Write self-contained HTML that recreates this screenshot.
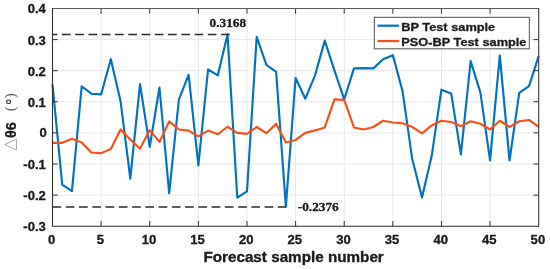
<!DOCTYPE html><html><head><meta charset="utf-8"><title>Forecast</title>
<style>html,body{margin:0;padding:0;background:#fff}svg{display:block}text{font-family:"Liberation Sans",sans-serif;font-weight:bold;fill:#1a1a1a}.s{stroke:#1a1a1a;stroke-width:.3px}.t{font-family:"Liberation Serif",serif;stroke:#1a1a1a;stroke-width:.3px}</style></head><body>
<svg width="550" height="269" viewBox="0 0 550 269">
<rect width="550" height="269" fill="#fff"/>
<path d="M101.12 8.50V226.20M149.74 8.50V226.20M198.36 8.50V226.20M246.98 8.50V226.20M295.60 8.50V226.20M344.22 8.50V226.20M392.84 8.50V226.20M441.46 8.50V226.20M490.08 8.50V226.20M52.50 195.10H538.70M52.50 164.00H538.70M52.50 132.90H538.70M52.50 101.80H538.70M52.50 70.70H538.70M52.50 39.60H538.70" stroke="#e8e8e8" stroke-width="1" fill="none"/>
<polyline points="52.50,84.38 62.22,184.53 71.95,191.06 81.67,86.25 91.40,93.71 101.12,94.34 110.84,59.19 120.57,101.18 130.29,178.62 140.02,84.07 149.74,146.90 159.46,87.49 169.19,193.23 178.91,99.31 188.64,74.90 198.36,165.43 208.08,69.46 217.81,75.37 227.53,34.38 237.26,197.56 246.98,191.37 256.70,36.80 266.43,64.98 276.15,71.94 285.88,206.79 295.60,77.85 305.32,98.69 315.05,75.37 324.77,40.63 334.50,70.70 344.22,99.41 353.94,68.37 363.67,68.06 373.39,68.37 383.12,59.19 392.84,55.15 402.56,91.10 412.29,159.34 422.01,197.59 431.74,155.60 441.46,89.67 451.18,93.40 460.91,154.36 470.63,61.18 480.36,92.31 490.08,160.39 499.80,55.46 509.53,160.39 519.25,92.78 528.98,86.09 538.70,56.18" fill="none" stroke="#0072C2" stroke-width="2.15" stroke-linejoin="round"/>
<polyline points="52.50,142.85 62.22,142.85 71.95,138.81 81.67,142.54 91.40,152.49 101.12,153.12 110.84,149.07 120.57,129.48 130.29,139.43 140.02,148.76 149.74,130.10 159.46,141.92 169.19,121.39 178.91,129.48 188.64,130.57 198.36,136.32 208.08,130.57 217.81,134.27 227.53,126.77 237.26,132.90 246.98,133.83 256.70,126.99 266.43,133.21 276.15,123.76 285.88,142.54 295.60,139.99 305.32,132.90 315.05,130.41 324.77,127.46 334.50,99.31 344.22,99.93 353.94,127.46 363.67,129.48 373.39,126.99 383.12,120.77 392.84,122.45 402.56,123.26 412.29,126.99 422.01,133.34 431.74,125.44 441.46,120.77 451.18,122.02 460.91,126.24 470.63,121.24 480.36,123.76 490.08,129.48 499.80,120.77 509.53,126.99 519.25,121.24 528.98,119.99 538.70,126.99" fill="none" stroke="#F5501A" stroke-width="2.15" stroke-linejoin="round"/>
<path d="M52.50 34.5H230.3" stroke="#2b2b2b" stroke-width="1.5" stroke-dasharray="8.7 4.56" stroke-dashoffset="3.8" fill="none"/>
<path d="M52.50 207H286" stroke="#2b2b2b" stroke-width="1.5" stroke-dasharray="8.7 4.56" fill="none"/>
<path d="M101.12 226.20v-5.20M101.12 8.50v5.20M149.74 226.20v-5.20M149.74 8.50v5.20M198.36 226.20v-5.20M198.36 8.50v5.20M246.98 226.20v-5.20M246.98 8.50v5.20M295.60 226.20v-5.20M295.60 8.50v5.20M344.22 226.20v-5.20M344.22 8.50v5.20M392.84 226.20v-5.20M392.84 8.50v5.20M441.46 226.20v-5.20M441.46 8.50v5.20M490.08 226.20v-5.20M490.08 8.50v5.20M52.50 195.10h5.20M538.70 195.10h-5.20M52.50 164.00h5.20M538.70 164.00h-5.20M52.50 132.90h5.20M538.70 132.90h-5.20M52.50 101.80h5.20M538.70 101.80h-5.20M52.50 70.70h5.20M538.70 70.70h-5.20M52.50 39.60h5.20M538.70 39.60h-5.20" stroke="#333" stroke-width="1" fill="none"/>
<path d="M52.00 8.50H539.20" stroke="#5a5a5a" stroke-width="1" fill="none"/>
<path d="M538.70 8.50V226.20" stroke="#3a3a3a" stroke-width="1.1" fill="none"/>
<path d="M52.50 8.00V226.20H539.20" stroke="#2e2e2e" stroke-width="1.1" fill="none"/>
<text transform="translate(51.70 243.90) scale(1.090 1)" font-size="12" text-anchor="middle" class="s">0</text>
<text transform="translate(100.32 243.90) scale(1.090 1)" font-size="12" text-anchor="middle" class="s">5</text>
<text transform="translate(148.94 243.90) scale(1.090 1)" font-size="12" text-anchor="middle" class="s">10</text>
<text transform="translate(197.56 243.90) scale(1.090 1)" font-size="12" text-anchor="middle" class="s">15</text>
<text transform="translate(246.18 243.90) scale(1.090 1)" font-size="12" text-anchor="middle" class="s">20</text>
<text transform="translate(294.80 243.90) scale(1.090 1)" font-size="12" text-anchor="middle" class="s">25</text>
<text transform="translate(343.42 243.90) scale(1.090 1)" font-size="12" text-anchor="middle" class="s">30</text>
<text transform="translate(392.04 243.90) scale(1.090 1)" font-size="12" text-anchor="middle" class="s">35</text>
<text transform="translate(440.66 243.90) scale(1.090 1)" font-size="12" text-anchor="middle" class="s">40</text>
<text transform="translate(489.28 243.90) scale(1.090 1)" font-size="12" text-anchor="middle" class="s">45</text>
<text transform="translate(537.90 243.90) scale(1.090 1)" font-size="12" text-anchor="middle" class="s">50</text>
<text transform="translate(45.90 231.10) scale(1.090 1)" font-size="12" text-anchor="end" class="s">-0.3</text>
<text transform="translate(45.90 200.00) scale(1.090 1)" font-size="12" text-anchor="end" class="s">-0.2</text>
<text transform="translate(45.90 168.90) scale(1.090 1)" font-size="12" text-anchor="end" class="s">-0.1</text>
<text transform="translate(46.70 137.40) scale(1.090 1)" font-size="12" text-anchor="end" class="s">0</text>
<text transform="translate(45.90 106.70) scale(1.090 1)" font-size="12" text-anchor="end" class="s">0.1</text>
<text transform="translate(45.90 75.60) scale(1.090 1)" font-size="12" text-anchor="end" class="s">0.2</text>
<text transform="translate(45.90 44.50) scale(1.090 1)" font-size="12" text-anchor="end" class="s">0.3</text>
<text transform="translate(45.90 13.40) scale(1.090 1)" font-size="12" text-anchor="end" class="s">0.4</text>
<text transform="translate(293.60 261.70) scale(1.090 1)" font-size="14" text-anchor="middle" class="s">Forecast sample number</text>
<text transform="translate(209.60 26.80) scale(1.090 1)" font-size="12.2" text-anchor="start" class="t">0.3168</text>
<text transform="translate(297.80 210.60) scale(1.090 1)" font-size="12.2" text-anchor="start" class="t">-0.2376</text>
<rect x="374.3" y="17.3" width="155" height="31.5" fill="#fff" stroke="#484848" stroke-width="0.95"/>
<path d="M377.5 25.7H399.2" stroke="#0072C2" stroke-width="2.2"/>
<path d="M377.5 41H399.2" stroke="#F5501A" stroke-width="2.2"/>
<text transform="translate(401.20 30.60) scale(1.112 1)" font-size="11.5" text-anchor="start" class="s">BP Test sample</text>
<text transform="translate(401.20 46.10) scale(1.112 1)" font-size="11.5" text-anchor="start" class="s">PSO-BP Test sample</text>
<text transform="translate(16.00 150.60) scale(1.100 1) rotate(-90)" font-size="12.0" style="font-weight:normal;fill:#666;font-family:'Noto Sans CJK SC',sans-serif">△</text>
<text transform="translate(15.90 138.00) scale(1.040 1) rotate(-90)" font-size="14.5" class="s">θ6</text>
<text transform="translate(14.60 111.20) scale(1.000 1) rotate(-90)" font-size="14.5" style="font-weight:normal;fill:#555;font-family:'Liberation Serif',serif">(</text>
<text transform="translate(16.80 104.80) scale(1.000 1) rotate(-90)" font-size="15" style="fill:#333">°</text>
<text transform="translate(14.60 98.00) scale(1.000 1) rotate(-90)" font-size="14.5" style="font-weight:normal;fill:#555;font-family:'Liberation Serif',serif">)</text>
</svg></body></html>
